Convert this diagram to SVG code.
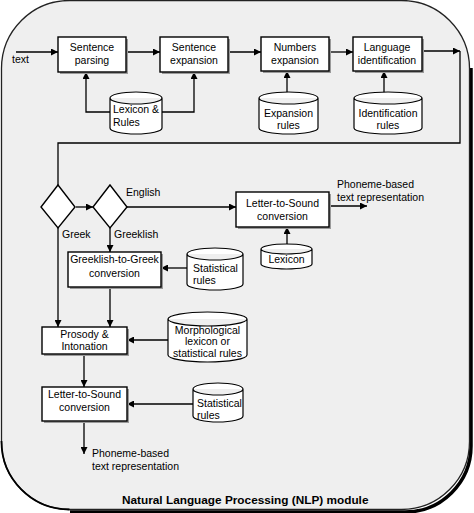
<svg xmlns="http://www.w3.org/2000/svg" width="474" height="513" viewBox="0 0 474 513">
<defs>
<marker id="ah" viewBox="0 0 10 10" refX="10" refY="5" markerWidth="7" markerHeight="7" markerUnits="userSpaceOnUse" orient="auto">
<path d="M0,0 L10,5 L0,10 z" fill="#000"/>
</marker>
<style>
text{font-family:"Liberation Sans",Arial,sans-serif;font-size:10.5px;fill:#000}
.c{text-anchor:middle}
.box{fill:#fff;stroke:#000;stroke-width:1.4}
.sh{fill:#9a9a9a}
.cyl{fill:#fff;stroke:#000;stroke-width:1.2}
.ln{fill:none;stroke:#000;stroke-width:1.3}
.ar{fill:none;stroke:#000;stroke-width:1.3;marker-end:url(#ah)}
.title{font-weight:bold;font-size:11.8px}
</style>
</defs>
<rect width="474" height="513" fill="#fff"/>
<g id="frame">
<path d="M471,68 V446 A66,66 0 0 1 405,512 H70" fill="none" stroke="#000" stroke-width="3.5"/>
<rect x="1.5" y="0.5" width="468" height="509" rx="68" ry="68" fill="#efefef" stroke="#222" stroke-width="1.3"/>
<path d="M1.5,441 A68,68 0 0 0 69.5,509.5" fill="none" stroke="#000" stroke-width="1.8"/>
</g>
<g id="connectors">
<path class="ar" d="M16,52 H58"/>
<path class="ar" d="M127,52 H160"/>
<path class="ar" d="M228,52 H261"/>
<path class="ar" d="M329,52 H353"/>
<path class="ar" d="M422,51 H460"/>
<path class="ln" d="M460,51 V143 H58 V185"/>
<path class="ar" d="M110,112 H86 V72"/>
<path class="ar" d="M162,112 H194 V72"/>
<path class="ar" d="M287,96 V71"/>
<path class="ar" d="M384,96 V71"/>
<path class="ar" d="M76,207 H93"/>
<path class="ar" d="M127,207 H236"/>
<path class="ar" d="M329,206 H367"/>
<path class="ar" d="M287,248 V227"/>
<path class="ar" d="M110,228 V252"/>
<path class="ar" d="M187,268 H161"/>
<path class="ar" d="M58,228 V327"/>
<path class="ar" d="M110,287 V327"/>
<path class="ar" d="M168,340 H127"/>
<path class="ar" d="M84,354 V387"/>
<path class="ar" d="M193,404 H127"/>
<path class="ar" d="M84,421 V454"/>
</g>
<g id="input-label"><text x="12" y="63">text</text></g>
<g id="sentence-parsing">
<rect class="sh" x="60" y="39" width="68" height="35"/>
<rect class="box" x="58" y="37" width="68" height="35"/>
<text class="c" x="92" y="51">Sentence</text><text class="c" x="92" y="64">parsing</text>
</g>
<g id="sentence-expansion">
<rect class="sh" x="162" y="39" width="68" height="35"/>
<rect class="box" x="160" y="37" width="68" height="35"/>
<text class="c" x="194" y="51">Sentence</text><text class="c" x="194" y="64">expansion</text>
</g>
<g id="numbers-expansion">
<rect class="sh" x="263" y="39" width="68" height="34"/>
<rect class="box" x="261" y="37" width="68" height="34"/>
<text class="c" x="295" y="51">Numbers</text><text class="c" x="295" y="64">expansion</text>
</g>
<g id="language-identification">
<rect class="sh" x="355" y="39" width="69" height="34"/>
<rect class="box" x="353" y="37" width="69" height="34"/>
<text class="c" x="387" y="51">Language</text><text class="c" x="387" y="64">identification</text>
</g>
<g id="lexicon-rules">
<path class="cyl" d="M110,98 a26,6 0 0 1 52,0 v30 a26,6 0 0 1 -52,0 z M110,98 a26,6 0 0 0 52,0"/>
<text x="113" y="113">Lexicon &amp;</text><text x="113" y="126">Rules</text>
</g>
<g id="expansion-rules">
<path class="cyl" d="M259,98 a29.5,6 0 0 1 59,0 v30 a29.5,6 0 0 1 -59,0 z M259,98 a29.5,6 0 0 0 59,0"/>
<text class="c" x="288.5" y="117">Expansion</text><text class="c" x="288.5" y="129">rules</text>
</g>
<g id="identification-rules">
<path class="cyl" d="M354,98 a34,6 0 0 1 68,0 v30 a34,6 0 0 1 -68,0 z M354,98 a34,6 0 0 0 68,0"/>
<text class="c" x="388" y="117">Identification</text><text class="c" x="388" y="129">rules</text>
</g>
<g id="decision-greek">
<path class="box" d="M58,185 L75,207 L58,228 L41,207 z"/>
</g>
<g id="decision-greeklish">
<path class="box" d="M110,185 L127,207 L110,228 L93,207 z"/>
</g>
<g id="branch-labels">
<text x="126" y="196">English</text>
<text x="62" y="238">Greek</text>
<text x="114" y="238">Greeklish</text>
</g>
<g id="letter-to-sound-1">
<rect class="sh" x="238" y="194" width="93" height="35"/>
<rect class="box" x="236" y="192" width="93" height="35"/>
<text class="c" x="282.5" y="207">Letter-to-Sound</text><text class="c" x="282.5" y="220">conversion</text>
</g>
<g id="output-1"><text x="337" y="188">Phoneme-based</text><text x="337" y="201">text representation</text></g>
<g id="lexicon">
<path class="cyl" d="M261,249 a25.5,5 0 0 1 51,0 v15 a25.5,5 0 0 1 -51,0 z M261,249 a25.5,5 0 0 0 51,0"/>
<text class="c" x="286.5" y="263">Lexicon</text>
</g>
<g id="greeklish-to-greek">
<rect class="sh" x="70" y="254" width="93" height="35"/>
<rect class="box" x="68" y="252" width="93" height="35"/>
<text class="c" x="114.5" y="263">Greeklish-to-Greek</text><text class="c" x="114.5" y="277">conversion</text>
</g>
<g id="statistical-rules-1">
<path class="cyl" d="M187,254 a28,6 0 0 1 56,0 v30 a28,6 0 0 1 -56,0 z M187,254 a28,6 0 0 0 56,0"/>
<text x="193" y="272">Statistical</text><text x="193" y="284">rules</text>
</g>
<g id="prosody-intonation">
<rect class="sh" x="44" y="329" width="85" height="27"/>
<rect class="box" x="42" y="327" width="85" height="27"/>
<text class="c" x="84.5" y="338">Prosody &amp;</text><text class="c" x="84.5" y="350">Intonation</text>
</g>
<g id="morphological-lexicon">
<path class="cyl" d="M168,319 a39.5,7 0 0 1 79,0 v36 a39.5,7 0 0 1 -79,0 z M168,319 a39.5,7 0 0 0 79,0"/>
<text class="c" x="207.5" y="334">Morphological</text><text class="c" x="207.5" y="345">lexicon or</text><text class="c" x="207.5" y="357">statistical rules</text>
</g>
<g id="letter-to-sound-2">
<rect class="sh" x="44" y="389" width="85" height="34"/>
<rect class="box" x="42" y="387" width="85" height="34"/>
<text class="c" x="84.5" y="398">Letter-to-Sound</text><text class="c" x="84.5" y="411">conversion</text>
</g>
<g id="statistical-rules-2">
<path class="cyl" d="M193,389 a25,6 0 0 1 50,0 v27 a25,6 0 0 1 -50,0 z M193,389 a25,6 0 0 0 50,0"/>
<text x="197" y="407">Statistical</text><text x="197" y="419">rules</text>
</g>
<g id="output-2"><text x="92" y="457">Phoneme-based</text><text x="92" y="470">text representation</text></g>
<g id="module-title"><text class="title" x="122" y="504">Natural Language Processing (NLP) module</text></g>
</svg>
